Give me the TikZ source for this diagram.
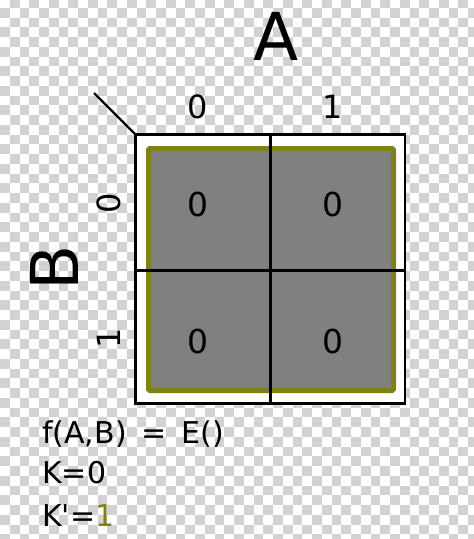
\documentclass[tikz,border=0pt]{standalone}
\usepackage{fontspec}
\setmainfont{DejaVu Sans}[Ligatures=TeXOff]
\definecolor{olivek}{RGB}{128,128,24}
\definecolor{cellgrey}{RGB}{128,128,128}
\definecolor{checkgrey}{RGB}{210,210,210}
\tikzset{
  gridline/.style={line width=2.3pt, black},
  biglabel/.style={font=\fontsize{66}{66}\selectfont, anchor=base, inner sep=0pt},
  varlabel/.style={font=\fontsize{32}{32}\selectfont, anchor=base, inner sep=0pt},
  cellval/.style={font=\fontsize{33}{33}\selectfont, anchor=base, inner sep=0pt},
  formula/.style={font=\fontsize{30}{30}\selectfont, anchor=base west, inner sep=0pt},
}
\begin{document}
\begin{tikzpicture}[x=1pt,y=-1pt]
\useasboundingbox (0,0) rectangle (474,539);
% transparency checkerboard
\begin{scope}
\clip (0,0) rectangle (474,539);
\fill[white] (0,0) rectangle (474,539);
\foreach \i in {0,...,48} {
  \foreach \j in {0,...,55} {
    \pgfmathtruncatemacro\odd{mod(\i+\j,2)}
    \ifnum\odd=1
      \fill[checkgrey] ({\i*9.75},{\j*9.75-2}) rectangle +(9.75,9.75);
    \fi
  }
}
\end{scope}
% grid corners
\coordinate (tl) at (135.5,134.5);
\coordinate (br) at (405,403.5);
\coordinate (mt) at (270.5,134.5);
\coordinate (mb) at (270.5,403.5);
\coordinate (ml) at (135.5,270.5);
\coordinate (mr) at (405,270.5);
\coordinate (diag) at (94,93);
\fill[white] (tl) rectangle (br);
% group (all cells)
\draw[olivek, fill=cellgrey, line width=5pt, rounded corners=1.5pt] (148.5,148.5) rectangle (393.5,390.5);
% dividers and box
\draw[gridline] (mt) -- (mb);
\draw[gridline] (ml) -- (mr);
\draw[gridline] (tl) rectangle (br);
\draw[gridline] (diag) -- (tl);
% labels
\node[biglabel] (A) at (276,60) {A};
\node[biglabel, rotate=90] (B) at (78,268) {B};
\node[varlabel] (a0) at (198,118) {0};
\node[varlabel] (a1) at (332.5,118) {1};
\node[varlabel, rotate=90] (b0) at (120,203.5) {0};
\node[varlabel, rotate=90] (b1) at (120,338) {1};
% cells
\node[cellval] (c00) at (197.5,216.7) {0};
\node[cellval] (c10) at (332.5,216.7) {0};
\node[cellval] (c01) at (197.5,353) {0};
\node[cellval] (c11) at (332.5,353) {0};
% formula text
\node[formula] (f1) at (42,443.3) {f(A,B)\hspace{15pt}=\hspace{15pt}E()};
\node[formula] (f2) at (42,483.3) {K=0};
\node[formula] (f3) at (42,526.7) {K'=\textcolor{olivek}{1}};
\end{tikzpicture}
\end{document}
